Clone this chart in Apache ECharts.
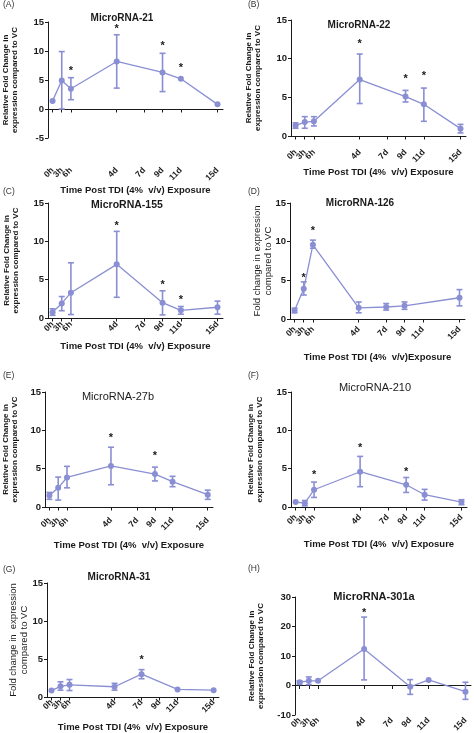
<!DOCTYPE html>
<html style="height: 100%">
<head>
  <meta charset="utf-8">
</head>
<body style="height: 100%; margin: 0; background: #fff">
  <div id="container" style="width: 474px; height: 733px"></div>
  <script src="https://cdn.jsdelivr.net/npm/echarts@6/dist/echarts.min.js"></script>
  <script>
// time points: tick labels and their place on the (compressed) time axis
var timeLabels = ['0h', '3h', '6h', '4d', '7d', '9d', '11d', '15d'];
var timeAxis = [0, 1, 2, 7, 10, 12, 14, 18];

// (A) MicroRNA-21
var meanA = [1.4, 4.9, 3.5, 8.2, null, 6.3, 5.2, 0.8];
var lowA  = [null, 0, 1.6, 3.6, null, 3.0, null, null];
var highA = [null, 9.9, 5.4, 12.8, null, 9.6, null, null];
var starA = [null, null, 6.9, 14.1, null, 11.2, 7.5, null];
// (B) MicroRNA-22
var meanB = [1.35, 1.8, 1.9, 7.3, null, 5.1, 4.1, 0.95];
var lowB  = [1.0, 1.0, 1.3, 4.2, null, 4.4, 1.9, 0.4];
var highB = [1.7, 2.5, 2.5, 10.6, null, 5.9, 6.2, 1.5];
var starB = [null, null, null, 12.2, null, 7.6, 8.0, null];
// (C) MicroRNA-155
var meanC = [0.75, 1.9, 3.3, 7.0, null, 2.0, 1.0, 1.4];
var lowC  = [0.35, 0.95, 0.45, 2.7, null, 0.4, 0.5, 0.5];
var highC = [1.2, 2.8, 7.2, 11.3, null, 3.55, 1.5, 2.2];
var starC = [null, null, null, 12.3, null, 4.6, 2.6, null];
// (D) MicroRNA-126
var meanD = [1.1, 3.9, 9.6, 1.45, 1.55, 1.7, null, 2.75];
var lowD  = [0.8, 3.1, 9.15, 0.8, 1.15, 1.25, null, 1.7];
var highD = [1.4, 4.8, 10.2, 2.2, 2.0, 2.2, null, 3.8];
var starD = [null, 5.6, 11.6, null, null, null, null, null];
// (E) MicroRNA-27b
var meanE = [1.5, 2.5, 3.85, 5.35, null, 4.3, 3.3, 1.6];
var lowE  = [1.0, 0.9, 2.5, 2.9, null, 3.4, 2.65, 1.0];
var highE = [1.9, 3.9, 5.3, 7.8, null, 5.2, 4.0, 2.2];
var starE = [null, null, null, 9.2, null, 6.9, null, null];
// (F) MicroRNA-210
var meanF = [0.65, 0.5, 2.25, 4.6, null, 2.9, 1.6, 0.65];
var lowF  = [null, 0.15, 1.25, 2.65, null, 1.9, 0.9, 0.3];
var highF = [null, 0.85, 3.25, 6.6, null, 3.85, 2.3, 0.95];
var starF = [null, null, 4.5, 7.9, null, 4.8, null, null];
// (G) MicroRNA-31
var meanG = [0.85, 1.4, 1.6, 1.35, 3.0, null, 1.0, 0.9];
var lowG  = [null, 0.9, 0.85, 0.9, 2.4, null, null, null];
var highG = [null, 2.0, 2.3, 1.8, 3.6, null, null, null];
var starG = [null, null, null, null, 5.2, null, null, null];
// (H) MicroRNA-301a
var meanH = [1.1, 1.6, 1.6, 12.4, null, -0.45, 1.9, -2.1];
var lowH  = [0.4, 0.3, null, 1.9, null, -3.0, null, -4.7];
var highH = [1.6, 2.9, null, 23.2, null, 2.0, null, 1.1];
var starH = [null, null, null, 25.4, null, null, null, null];

var FONT = 'Liberation Sans, Arial, Helvetica, sans-serif';
var INK = '#1a1a1a';
var LINE = '#8a8fd3';
var relName = 'Relative Fold Change in\nexpression compared to VC';

var panels = [
  {letter: '(A)', title: 'MicroRNA-21', mean: meanA, low: lowA, high: highA, star: starA,
   left: 48, top: 22, width: 175, height: 116, yMin: -5, yMax: 15, yStep: 5,
   lm: 31, xGap: 47, yName: relName, yGap: 29, yBold: true,
   tx: 122, ty: 18, tSize: 10, tBold: true, lx: 3, ly: 5, xName: 'Time Post TDI (4%  v/v) Exposure'},
  {letter: '(B)', title: 'MicroRNA-22', mean: meanB, low: lowB, high: highB, star: starB,
   left: 291, top: 20, width: 175, height: 116, yMin: 0, yMax: 15, yStep: 5,
   lm: 15, xGap: 31, yName: relName, yGap: 29, yBold: true,
   tx: 359, ty: 25, tSize: 10, tBold: true, lx: 248, ly: 5, xName: 'Time Post TDI (4%  v/v) Exposure'},
  {letter: '(C)', title: 'MicroRNA-155', mean: meanC, low: lowC, high: highC, star: starC,
   left: 48, top: 203, width: 175, height: 115, yMin: 0, yMax: 15, yStep: 5,
   lm: 5, xGap: 23, yName: relName, yGap: 28, yBold: true,
   tx: 127, ty: 205, tSize: 10.5, tBold: true, lx: 3, ly: 192, xName: 'Time Post TDI (4%  v/v) Exposure'},
  {letter: '(D)', title: 'MicroRNA-126', mean: meanD, low: lowD, high: highD, star: starD,
   left: 290, top: 203, width: 175, height: 116, yMin: 0, yMax: 15, yStep: 5,
   lm: 9, xGap: 33, yName: 'Fold change in expression\ncompared to VC', yGap: 16, yBold: false,
   tx: 360, ty: 203, tSize: 10, tBold: true, lx: 248, ly: 192, xName: 'Time Post TDI (4%  v/v)Exposure'},
  {letter: '(E)', title: 'MicroRNA-27b', mean: meanE, low: lowE, high: highE, star: starE,
   left: 45, top: 392, width: 168, height: 115, yMin: 0, yMax: 15, yStep: 5,
   lm: 12, xGap: 33, yName: relName, yGap: 26, yBold: true,
   tx: 118, ty: 397, tSize: 11, tBold: false, lx: 3, ly: 376, xName: 'Time Post TDI (4%  v/v) Exposure'},
  {letter: '(F)', title: 'MicroRNA-210', mean: meanF, low: lowF, high: highF, star: starF,
   left: 291, top: 392, width: 176, height: 115, yMin: 0, yMax: 15, yStep: 5,
   lm: 9, xGap: 32, yName: relName, yGap: 27, yBold: true,
   tx: 375, ty: 388, tSize: 11, tBold: false, lx: 248, ly: 376, xName: 'Time Post TDI (4%  v/v) Exposure'},
  {letter: '(G)', title: 'MicroRNA-31', mean: meanG, low: lowG, high: highG, star: starG,
   left: 47, top: 583, width: 172, height: 114, yMin: 0, yMax: 15, yStep: 5,
   lm: 4, xGap: 25, yName: 'Fold change in  expression\ncompared to VC', yGap: 17, yBold: false,
   tx: 119, ty: 577, tSize: 10, tBold: true, lx: 3, ly: 570, xName: 'Time Post TDI (4%  v/v) Exposure'},
  {letter: '(H)', title: 'MicroRNA-301a', mean: meanH, low: lowH, high: highH, star: starH,
   left: 295, top: 597, width: 176, height: 118, yMin: -10, yMax: 30, yStep: 10,
   lm: 4, xGap: 31, yName: relName, yGap: 30, yBold: true,
   tx: 374, ty: 597, tSize: 11, tBold: true, lx: 248, ly: 569, xName: 'Time Post TDI (4%  v/v) Exposure'}
];

// the 3h label sits too close to 0h/6h for echarts' overlap check,
// so it goes on a second, line-less axis in the same grid
var mainTicks = timeAxis.filter(function (t, k) { return k !== 1; });
var sideTicks = [timeAxis[1]];

function errRender(params, api) {
  var x = api.value(0);
  var lo = api.coord([x, api.value(1)]);
  var hi = api.coord([x, api.value(2)]);
  var st = {stroke: LINE, lineWidth: 1.6};
  return {type: 'group', children: [
    {type: 'line', shape: {x1: lo[0], y1: lo[1], x2: hi[0], y2: hi[1]}, style: st},
    {type: 'line', shape: {x1: lo[0] - 3, y1: lo[1], x2: lo[0] + 3, y2: lo[1]}, style: st},
    {type: 'line', shape: {x1: hi[0] - 3, y1: hi[1], x2: hi[0] + 3, y2: hi[1]}, style: st}
  ]};
}

function starRender(params, api) {
  var p = api.coord([api.value(0), api.value(1)]);
  return {type: 'text', style: {text: '*', x: p[0], y: p[1] + 2, align: 'center', verticalAlign: 'middle',
    fontSize: 11, fontWeight: 'bold', fontFamily: FONT, fill: INK}};
}

function tickLabel(v) { return timeLabels[timeAxis.indexOf(v)]; }

var grid = [], xAxis = [], yAxis = [], series = [], graphic = [];
panels.forEach(function (p, i) {
  grid.push({left: p.left, top: p.top, width: p.width, height: p.height, outerBoundsMode: 'none'});
  var labelStyle = {
    rotate: 45, margin: p.lm, showMinLabel: true, showMaxLabel: true, hideOverlap: false,
    fontSize: 8.5, fontWeight: 'bold', fontFamily: FONT, color: INK, formatter: tickLabel
  };
  xAxis.push({
    gridIndex: i, type: 'value', position: 'bottom', min: -0.5, max: 18.6,
    axisLine: {show: true, onZero: true, lineStyle: {color: INK, width: 1}},
    axisTick: {show: true, customValues: timeAxis, length: 3.5, lineStyle: {color: INK}},
    axisLabel: Object.assign({customValues: mainTicks}, labelStyle),
    splitLine: {show: false},
    name: p.xName, nameLocation: 'middle', nameGap: p.xGap, nameMoveOverlap: false,
    nameTextStyle: {fontSize: 9.5, fontWeight: 'bold', fontFamily: FONT, color: INK}
  });
  xAxis.push({
    gridIndex: i, type: 'value', position: 'bottom', min: -0.5, max: 18.6,
    axisLine: {show: false, onZero: true},
    axisTick: {show: false},
    axisLabel: Object.assign({customValues: sideTicks}, labelStyle),
    splitLine: {show: false}
  });
  yAxis.push({
    gridIndex: i, type: 'value', min: p.yMin, max: p.yMax, interval: p.yStep,
    axisLine: {show: true, onZero: false, lineStyle: {color: INK, width: 1}},
    axisTick: {show: true, length: 3, lineStyle: {color: INK}},
    axisLabel: {fontSize: 9.5, fontWeight: 'bold', fontFamily: FONT, color: INK, margin: 4},
    splitLine: {show: false},
    name: p.yName, nameLocation: 'middle', nameRotate: 90, nameGap: p.yGap, nameMoveOverlap: false,
    nameTextStyle: p.yBold
      ? {fontSize: 8, fontWeight: 'bold', fontFamily: FONT, color: INK, lineHeight: 9}
      : {fontSize: 9.5, fontWeight: 'normal', fontFamily: FONT, color: INK, lineHeight: 11}
  });

  var pts = [], errs = [], stars = [];
  timeAxis.forEach(function (t, k) {
    if (p.mean[k] != null) pts.push([t, p.mean[k]]);
    if (p.low[k] != null) errs.push([t, p.low[k], p.high[k]]);
    if (p.star[k] != null) stars.push([t, p.star[k]]);
  });
  series.push({
    type: 'custom', xAxisIndex: 2 * i, yAxisIndex: i, renderItem: errRender,
    encode: {x: 0, y: [1, 2]}, data: errs, silent: true, z: 2
  });
  series.push({
    type: 'line', xAxisIndex: 2 * i, yAxisIndex: i, data: pts,
    symbol: 'circle', symbolSize: 6, showSymbol: true,
    lineStyle: {color: LINE, width: 1.3}, itemStyle: {color: LINE},
    animation: false, z: 3
  });
  series.push({
    type: 'custom', xAxisIndex: 2 * i, yAxisIndex: i, renderItem: starRender,
    encode: {x: 0, y: 1}, data: stars, silent: true, z: 4
  });

  graphic.push({type: 'text', left: p.lx, top: p.ly - 5,
    style: {text: p.letter, fontSize: 8.5, fontFamily: FONT, fill: '#333'}});
  graphic.push({type: 'text', x: p.tx, y: p.ty,
    style: {text: p.title, align: 'center', verticalAlign: 'middle',
      fontSize: p.tSize, fontWeight: p.tBold ? 'bold' : 'normal', fontFamily: FONT, fill: INK}});
});

var chart = echarts.init(document.getElementById('container'), null, {renderer: 'canvas'});
chart.setOption({
  animation: false,
  backgroundColor: '#fff',
  grid: grid,
  xAxis: xAxis,
  yAxis: yAxis,
  series: series,
  graphic: graphic
});
  </script>
</body>
</html>
